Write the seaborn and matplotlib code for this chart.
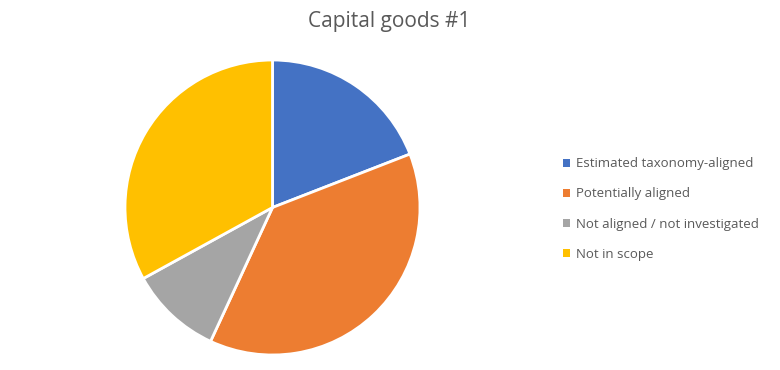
import matplotlib
matplotlib.use("Agg")
import matplotlib.pyplot as plt
import seaborn as sns
from matplotlib.patches import Patch

categories = ["Estimated taxonomy-aligned", "Potentially aligned",
              "Not aligned / not investigated", "Not in scope"]
values = [19.1, 37.8, 10.1, 33.0]
colors = ["#4472C4", "#ED7D31", "#A5A5A5", "#FFC000"]
title = "Capital goods #1"

sns.set_theme(style="white")
plt.rcParams["font.family"] = ["Open Sans", "DejaVu Sans"]

fig = plt.figure(figsize=(7.8, 3.7), dpi=100)
fig.patch.set_facecolor("white")
ax = fig.add_axes([125 / 780, 15 / 370, 295 / 780, 295 / 370])
wedges, _ = ax.pie(values, colors=colors, startangle=90, counterclock=False,
                   radius=1.0,
                   wedgeprops=dict(edgecolor="white", linewidth=2))
ax.set_xlim(-1.0, 1.0)
ax.set_ylim(-1.0, 1.0)
ax.set_aspect("equal")
ax.axis("off")

fig.text(389 / 780, 1 - 22 / 370, title, ha="center", va="center",
         fontsize=15, color="#595959")

handles = [Patch(facecolor=c, edgecolor="none") for c in colors]
leg = fig.legend(handles, categories, loc="center left",
                 bbox_to_anchor=(551 / 780, 1 - 209 / 370),
                 frameon=False, fontsize=9.5, handlelength=0.55,
                 handleheight=0.55, handletextpad=0.45, labelspacing=1.3,
                 labelcolor="#595959")

fig.savefig("out.png", dpi=100, facecolor="white")
